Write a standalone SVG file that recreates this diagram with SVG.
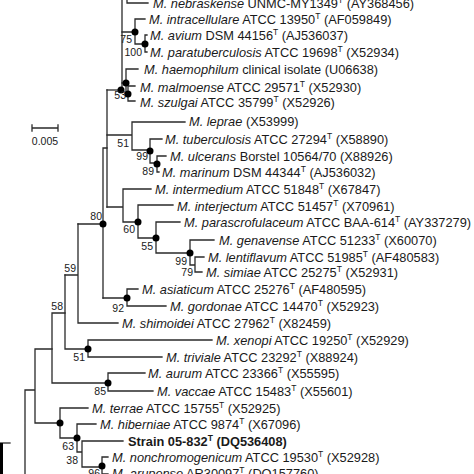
<svg xmlns="http://www.w3.org/2000/svg" width="474" height="474" viewBox="0 0 474 474">
<style>
.t{font-family:"Liberation Sans",Arial,sans-serif;font-size:12.8px;fill:#1a1a1a}
.i{font-style:italic}
.s{font-size:8.5px}
.bd{font-weight:bold}
.lb{font-family:"Liberation Sans",Arial,sans-serif;font-size:10.5px;fill:#1a1a1a;text-anchor:end}
.br{stroke:#2a2a2a;stroke-width:1.3;fill:none;stroke-linecap:square}
.dot{fill:#000}
</style>
<rect width="474" height="474" fill="#fff"/>
<g id="connectors" class="br">
<path d="M127,-5V3H148"/>
<path d="M122,-5V90"/>
<path d="M122,32H135M135,19V44M135,19H145M135,44H145M145,35V52M145,35H147M145,52H147"/>
<path d="M122,83H126M126,69V93M126,69H138M126,93H128M128,86V101M128,86H135M128,101H135"/>
<path d="M107,90H122"/>
<path d="M107,90V207"/>
<path d="M107,135H132M132,122V150M132,122H185M132,150H150"/>
<path d="M150,139V163M150,139H162M150,163H157M157,156V172M157,156H166M157,172H159"/>
<path d="M107,207H123M123,189V222M123,189H151M123,222H138"/>
<path d="M138,205V238M138,205H173M138,238H156"/>
<path d="M156,222V253M156,222H180M156,253H190"/>
<path d="M190,240V265M190,240H214M190,265H195M195,257V272M195,257H204M195,272H202"/>
<path d="M103,148H107M103,148V298M78,224H103"/>
<path d="M103,298H127M127,289V306M127,289H138M127,306H166"/>
<path d="M78,224V323M78,323H118M65,275H78"/>
<path d="M65,275V349M65,349H88M88,340V357M88,340H212M88,357H162"/>
<path d="M52,313H65M52,313V383M52,383H108M108,373V391M108,373H145M108,391H153"/>
<path d="M35,349H52M35,349V423M35,423H60M25,390H35M25,390V480"/>
<path d="M60,408V438M60,408H88M60,438H77"/>
<path d="M77,424V452M77,424H96M77,452H82M82,441V467M82,441H123M82,467H102"/>
<path d="M102,457V480M102,457H108M102,474H108"/>
<path d="M0,443H10"/>
<rect x="0" y="443" width="3" height="40" fill="#000" stroke="none"/>
</g>
<g id="scale">
<path class="br" d="M32,128H58M32,125V131M58,125V131"/>
<text class="lb" x="45" y="145" style="text-anchor:middle">0.005</text>
</g>
<g id="n53"><circle class="dot" cx="121" cy="90" r="3.5"/><text class="lb" x="126" y="99">53</text></g>
<g id="n-haem"><circle class="dot" cx="126" cy="83" r="3.5"/></g>
<g id="n-malm"><circle class="dot" cx="128" cy="94" r="3.5"/></g>
<g id="n75"><circle class="dot" cx="135" cy="32" r="3.5"/><text class="lb" x="132" y="43">75</text></g>
<g id="n100"><circle class="dot" cx="145" cy="44" r="3.5"/><text class="lb" x="142" y="56">100</text></g>
<g id="n51a"><text class="lb" x="129" y="147">51</text></g>
<g id="n99a"><circle class="dot" cx="150" cy="151" r="3.5"/><text class="lb" x="148" y="160">99</text></g>
<g id="n89"><circle class="dot" cx="157" cy="164" r="3.5"/><text class="lb" x="154" y="175">89</text></g>
<g id="n80"><circle class="dot" cx="103" cy="224" r="3.5"/><text class="lb" x="102" y="220">80</text></g>
<g id="n60"><circle class="dot" cx="138" cy="222" r="3.5"/><text class="lb" x="135" y="233">60</text></g>
<g id="n55"><circle class="dot" cx="156" cy="238" r="3.5"/><text class="lb" x="153" y="250">55</text></g>
<g id="n99b"><circle class="dot" cx="190" cy="253" r="3.5"/><text class="lb" x="187" y="265">99</text></g>
<g id="n79"><text class="lb" x="193" y="276">79</text></g>
<g id="n92"><circle class="dot" cx="127" cy="298" r="3.5"/><text class="lb" x="124" y="312">92</text></g>
<g id="n59"><text class="lb" x="76" y="272">59</text></g>
<g id="n58"><text class="lb" x="63" y="310">58</text></g>
<g id="n51b"><circle class="dot" cx="88" cy="349" r="3.5"/><text class="lb" x="85" y="361">51</text></g>
<g id="n85"><circle class="dot" cx="108" cy="383" r="3.5"/><text class="lb" x="106" y="395">85</text></g>
<g id="n-terr"><circle class="dot" cx="60" cy="423" r="3.5"/></g>
<g id="n63"><circle class="dot" cx="77" cy="438" r="3.5"/><text class="lb" x="74" y="450">63</text></g>
<g id="n38"><text class="lb" x="78" y="464">38</text></g>
<g id="n96"><circle class="dot" cx="102" cy="466" r="3.5"/><text class="lb" x="100" y="477">96</text></g>
<g id="leaf0"><text class="t" x="153" y="7.5"><tspan class="i">M. nebraskense</tspan> UNMC-MY1349<tspan class="s" dy="-5">T</tspan><tspan dy="5"> (AY368456)</tspan></text></g>
<g id="leaf1"><text class="t" x="149" y="23.5"><tspan class="i">M. intracellulare</tspan> ATCC 13950<tspan class="s" dy="-5">T</tspan><tspan dy="5"> (AF059849)</tspan></text></g>
<g id="leaf2"><text class="t" x="150" y="39.5"><tspan class="i">M. avium</tspan> DSM 44156<tspan class="s" dy="-5">T</tspan><tspan dy="5"> (AJ536037)</tspan></text></g>
<g id="leaf3"><text class="t" x="150" y="56.5"><tspan class="i">M. paratuberculosis</tspan> ATCC 19698<tspan class="s" dy="-5">T</tspan><tspan dy="5"> (X52934)</tspan></text></g>
<g id="leaf4"><text class="t" x="144" y="73.5"><tspan class="i">M. haemophilum</tspan> clinical isolate (U06638)</text></g>
<g id="leaf5"><text class="t" x="140" y="91.5"><tspan class="i">M. malmoense</tspan> ATCC 29571<tspan class="s" dy="-5">T</tspan><tspan dy="5"> (X52930)</tspan></text></g>
<g id="leaf6"><text class="t" x="140" y="106.5"><tspan class="i">M. szulgai</tspan> ATCC 35799<tspan class="s" dy="-5">T</tspan><tspan dy="5"> (X52926)</tspan></text></g>
<g id="leaf7"><text class="t" x="189" y="125.5"><tspan class="i">M. leprae</tspan> (X53999)</text></g>
<g id="leaf8"><text class="t" x="165" y="143.5"><tspan class="i">M. tuberculosis</tspan> ATCC 27294<tspan class="s" dy="-5">T</tspan><tspan dy="5"> (X58890)</tspan></text></g>
<g id="leaf9"><text class="t" x="170" y="160.5"><tspan class="i">M. ulcerans</tspan> Borstel 10564/70 (X88926)</text></g>
<g id="leaf10"><text class="t" x="162" y="176.5"><tspan class="i">M. marinum</tspan> DSM 44344<tspan class="s" dy="-5">T</tspan><tspan dy="5"> (AJ536032)</tspan></text></g>
<g id="leaf11"><text class="t" x="155" y="193.5"><tspan class="i">M. intermedium</tspan> ATCC 51848<tspan class="s" dy="-5">T</tspan><tspan dy="5"> (X67847)</tspan></text></g>
<g id="leaf12"><text class="t" x="177" y="210.5"><tspan class="i">M. interjectum</tspan> ATCC 51457<tspan class="s" dy="-5">T</tspan><tspan dy="5"> (X70961)</tspan></text></g>
<g id="leaf13"><text class="t" x="184" y="226.5"><tspan class="i">M. parascrofulaceum</tspan> ATCC BAA-614<tspan class="s" dy="-5">T</tspan><tspan dy="5"> (AY337279)</tspan></text></g>
<g id="leaf14"><text class="t" x="219" y="244.5"><tspan class="i">M. genavense</tspan> ATCC 51233<tspan class="s" dy="-5">T</tspan><tspan dy="5"> (X60070)</tspan></text></g>
<g id="leaf15"><text class="t" x="208" y="261.5"><tspan class="i">M. lentiflavum</tspan> ATCC 51985<tspan class="s" dy="-5">T</tspan><tspan dy="5"> (AF480583)</tspan></text></g>
<g id="leaf16"><text class="t" x="206" y="276.5"><tspan class="i">M. simiae</tspan> ATCC 25275<tspan class="s" dy="-5">T</tspan><tspan dy="5"> (X52931)</tspan></text></g>
<g id="leaf17"><text class="t" x="142" y="293.5"><tspan class="i">M. asiaticum</tspan> ATCC 25276<tspan class="s" dy="-5">T</tspan><tspan dy="5"> (AF480595)</tspan></text></g>
<g id="leaf18"><text class="t" x="170" y="310.5"><tspan class="i">M. gordonae</tspan> ATCC 14470<tspan class="s" dy="-5">T</tspan><tspan dy="5"> (X52923)</tspan></text></g>
<g id="leaf19"><text class="t" x="122" y="327.5"><tspan class="i">M. shimoidei</tspan> ATCC 27962<tspan class="s" dy="-5">T</tspan><tspan dy="5"> (X82459)</tspan></text></g>
<g id="leaf20"><text class="t" x="216" y="344.5"><tspan class="i">M. xenopi</tspan> ATCC 19250<tspan class="s" dy="-5">T</tspan><tspan dy="5"> (X52929)</tspan></text></g>
<g id="leaf21"><text class="t" x="166" y="361.5"><tspan class="i">M. triviale</tspan> ATCC 23292<tspan class="s" dy="-5">T</tspan><tspan dy="5"> (X88924)</tspan></text></g>
<g id="leaf22"><text class="t" x="148" y="377.5"><tspan class="i">M. aurum</tspan> ATCC 23366<tspan class="s" dy="-5">T</tspan><tspan dy="5"> (X55595)</tspan></text></g>
<g id="leaf23"><text class="t" x="157" y="395.5"><tspan class="i">M. vaccae</tspan> ATCC 15483<tspan class="s" dy="-5">T</tspan><tspan dy="5"> (X55601)</tspan></text></g>
<g id="leaf24"><text class="t" x="92" y="412.5"><tspan class="i">M. terrae</tspan> ATCC 15755<tspan class="s" dy="-5">T</tspan><tspan dy="5"> (X52925)</tspan></text></g>
<g id="leaf25"><text class="t" x="100" y="428.5"><tspan class="i">M. hiberniae</tspan> ATCC 9874<tspan class="s" dy="-5">T</tspan><tspan dy="5"> (X67096)</tspan></text></g>
<g id="leaf26"><text class="t bd" x="128" y="445.5">Strain 05-832<tspan class="s" dy="-5">T</tspan><tspan dy="5"> (DQ536408)</tspan></text></g>
<g id="leaf27"><text class="t" x="112" y="461.5"><tspan class="i">M. nonchromogenicum</tspan> ATCC 19530<tspan class="s" dy="-5">T</tspan><tspan dy="5"> (X52928)</tspan></text></g>
<g id="leaf28"><text class="t" x="112" y="478"><tspan class="i">M. arupense</tspan> AR30097<tspan class="s" dy="-5">T</tspan><tspan dy="5"> (DQ157760)</tspan></text></g>
</svg>
